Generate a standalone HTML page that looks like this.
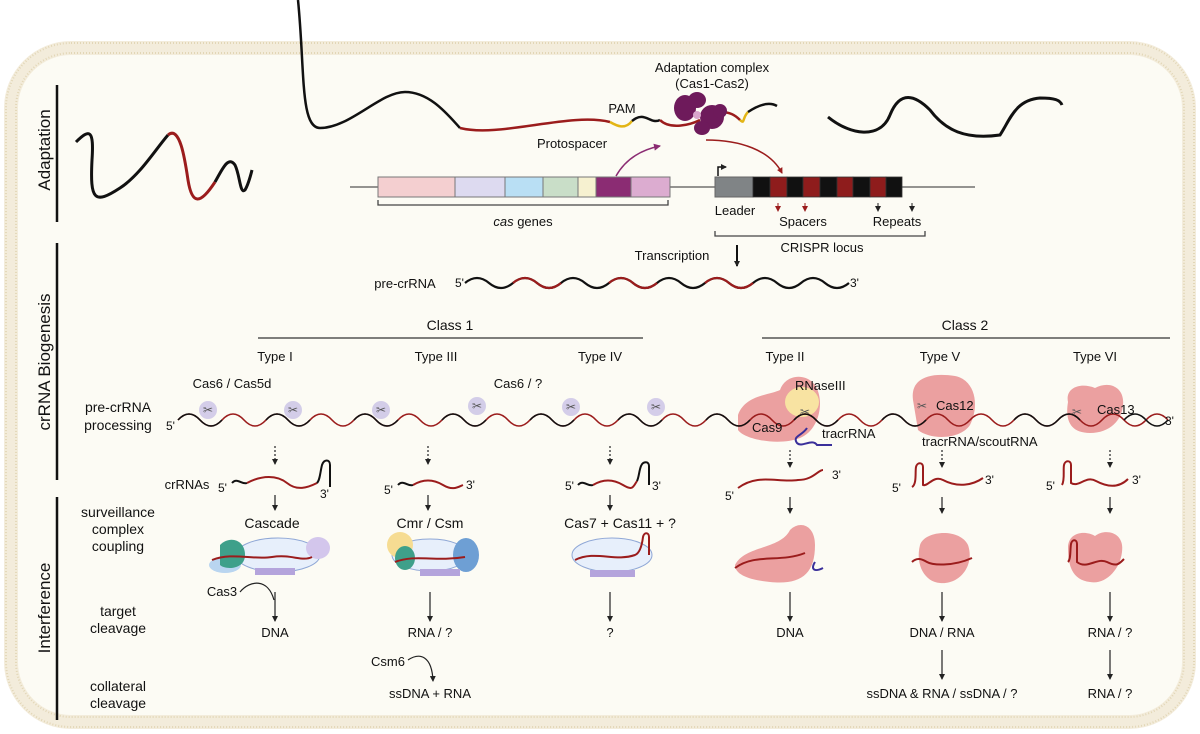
<!DOCTYPE html>
<html><head><meta charset="utf-8"><style>
html,body{margin:0;padding:0;background:#fff;}
svg{display:block;font-family:"Liberation Sans",sans-serif;}
</style></head><body>
<svg width="1200" height="734" viewBox="0 0 1200 734" xmlns="http://www.w3.org/2000/svg">
<defs>
<marker id="ah" markerWidth="6" markerHeight="6" refX="5" refY="3" orient="auto" markerUnits="userSpaceOnUse"><path d="M0,0 L6,3 L0,6 z" fill="#222"/></marker>
<marker id="ahr" markerWidth="6" markerHeight="6" refX="5" refY="3" orient="auto" markerUnits="userSpaceOnUse"><path d="M0,0 L6,3 L0,6 z" fill="#9b1c1c"/></marker>
<marker id="ahp" markerWidth="7" markerHeight="7" refX="6" refY="3.5" orient="auto" markerUnits="userSpaceOnUse"><path d="M0,0 L7,3.5 L0,7 z" fill="#8b2c73"/></marker>
</defs>
<!-- membrane -->
<rect x="11" y="48" width="1178" height="674" rx="60" fill="#fcfbf4" stroke="#f3ecdb" stroke-width="14"/>
<rect x="6" y="43" width="1188" height="684" rx="65" fill="none" stroke="#e2d6b6" stroke-width="2" stroke-dasharray="1 2"/>
<rect x="16" y="53" width="1168" height="664" rx="55" fill="none" stroke="#e2d6b6" stroke-width="2" stroke-dasharray="1 2"/>

<!-- section bars -->
<g stroke="#111" stroke-width="2.5">
<line x1="57" y1="85" x2="57" y2="222"/>
<line x1="57" y1="243" x2="57" y2="480"/>
<line x1="57" y1="497" x2="57" y2="720"/>
</g>
<g font-size="17" fill="#111" text-anchor="middle">
<text transform="translate(50,150) rotate(-90)">Adaptation</text>
<text transform="translate(50,362) rotate(-90)">crRNA Biogenesis</text>
<text transform="translate(50,608) rotate(-90)">Interference</text>
</g>

<!-- left squiggle -->
<path d="M76,142 C90,128 94,130 92,160 C90,200 94,205 120,188 C140,175 155,150 168,135" fill="none" stroke="#111" stroke-width="3"/>
<path d="M168,135 C180,125 185,160 188,180 C192,205 200,205 215,182" fill="none" stroke="#9b1c1c" stroke-width="3"/>
<path d="M215,182 C222,170 228,155 235,165 C240,175 240,195 245,190 C248,185 250,178 252,170" fill="none" stroke="#111" stroke-width="3"/>

<!-- big phage DNA -->
<path d="M298,0 C305,70 300,128 320,128 C350,128 380,92 405,92 C430,92 448,115 460,128" fill="none" stroke="#111" stroke-width="2.5"/>
<path d="M460,128 C500,138 570,112 610,122" fill="none" stroke="#9b1c1c" stroke-width="2.5"/>
<path d="M610,122 C617,126 625,130 632,121" fill="none" stroke="#e3b515" stroke-width="2.5"/>
<path d="M632,121 C645,110 650,125 660,120" fill="none" stroke="#111" stroke-width="2.5"/>
<path d="M660,120 C670,130 690,125 700,120" fill="none" stroke="#9b1c1c" stroke-width="2.5"/>
<path d="M720,112 C730,112 735,115 740,120" fill="none" stroke="#9b1c1c" stroke-width="2.5"/>
<path d="M740,120 C745,125 742,118 748,112" fill="none" stroke="#e3b515" stroke-width="2.5"/>
<path d="M748,112 C760,104 770,102 777,106" fill="none" stroke="#111" stroke-width="2.5"/>
<!-- right black curve -->
<path d="M828,117 C850,135 880,140 890,115 C900,90 915,95 930,110 C945,130 965,140 1000,135 C1010,120 1015,100 1040,98 C1055,98 1060,100 1062,105" fill="none" stroke="#111" stroke-width="3"/>
<!-- adaptation complex -->
<g fill="#6e1a5b">
<ellipse cx="685" cy="108" rx="11" ry="13"/>
<ellipse cx="697" cy="100" rx="9" ry="8"/>
<ellipse cx="712" cy="117" rx="12" ry="12"/>
<ellipse cx="702" cy="128" rx="8" ry="7"/>
<ellipse cx="720" cy="111" rx="7" ry="7"/>
</g>
<circle cx="697" cy="115" r="4" fill="#d8a6cc"/>
<text x="712" y="72" font-size="13" text-anchor="middle" fill="#111">Adaptation complex</text>
<text x="712" y="88" font-size="13" text-anchor="middle" fill="#111">(Cas1-Cas2)</text>
<text x="622" y="113" font-size="13" text-anchor="middle" fill="#111">PAM</text>
<text x="572" y="148" font-size="13" text-anchor="middle" fill="#111">Protospacer</text>

<!-- cas genes -->
<line x1="350" y1="187" x2="975" y2="187" stroke="#555" stroke-width="1.2"/>
<g stroke="#777" stroke-width="1">
<rect x="378" y="177" width="77" height="20" fill="#f4cfd0"/>
<rect x="455" y="177" width="50" height="20" fill="#dddaf0"/>
<rect x="505" y="177" width="38" height="20" fill="#b9dff4"/>
<rect x="543" y="177" width="35" height="20" fill="#c9dec8"/>
<rect x="578" y="177" width="18" height="20" fill="#f6f1d0"/>
<rect x="596" y="177" width="35" height="20" fill="#8b2c73"/>
<rect x="631" y="177" width="39" height="20" fill="#dcacd0"/>
</g>
<path d="M378,200 v5 h290 v-5" fill="none" stroke="#444" stroke-width="1.3"/>
<text x="523" y="226" font-size="13" text-anchor="middle" fill="#111"><tspan font-style="italic">cas</tspan> genes</text>
<path d="M616,176 C625,160 640,150 660,146" fill="none" stroke="#8b2c73" stroke-width="1.5" marker-end="url(#ahp)"/>
<path d="M706,140 C740,140 770,150 782,173" fill="none" stroke="#9b1c1c" stroke-width="1.5" marker-end="url(#ahr)"/>
<!-- CRISPR locus -->
<rect x="715" y="177" width="38" height="20" fill="#808486" stroke="#666"/>
<g stroke="#333" stroke-width="0.8">
<rect x="753" y="177" width="17" height="20" fill="#111"/>
<rect x="770" y="177" width="17" height="20" fill="#8e1c1c"/>
<rect x="787" y="177" width="16" height="20" fill="#111"/>
<rect x="803" y="177" width="17" height="20" fill="#8e1c1c"/>
<rect x="820" y="177" width="17" height="20" fill="#111"/>
<rect x="837" y="177" width="16" height="20" fill="#8e1c1c"/>
<rect x="853" y="177" width="17" height="20" fill="#111"/>
<rect x="870" y="177" width="16" height="20" fill="#8e1c1c"/>
<rect x="886" y="177" width="16" height="20" fill="#111"/>
</g>
<path d="M718,176 v-9 h8" fill="none" stroke="#111" stroke-width="1.5" marker-end="url(#ah)"/>
<g stroke-width="1">
<line x1="778" y1="203" x2="778" y2="211" stroke="#9b1c1c" marker-end="url(#ahr)"/>
<line x1="805" y1="203" x2="805" y2="211" stroke="#9b1c1c" marker-end="url(#ahr)"/>
<line x1="878" y1="203" x2="878" y2="211" stroke="#222" marker-end="url(#ah)"/>
<line x1="912" y1="203" x2="912" y2="211" stroke="#222" marker-end="url(#ah)"/>
</g>
<text x="735" y="215" font-size="13" text-anchor="middle" fill="#111">Leader</text>
<text x="803" y="226" font-size="13" text-anchor="middle" fill="#111">Spacers</text>
<text x="897" y="226" font-size="13" text-anchor="middle" fill="#111">Repeats</text>
<path d="M715,231 v5 h210 v-5" fill="none" stroke="#444" stroke-width="1.3"/>
<text x="822" y="252" font-size="13" text-anchor="middle" fill="#111">CRISPR locus</text>
<text x="672" y="260" font-size="13" text-anchor="middle" fill="#111">Transcription</text>
<line x1="737" y1="245" x2="737" y2="266" stroke="#111" stroke-width="2" marker-end="url(#ah)"/>

<!-- pre-crRNA -->
<text x="405" y="288" font-size="13" text-anchor="middle" fill="#111">pre-crRNA</text>
<text x="455" y="287" font-size="12" fill="#111">5'</text>
<path d="M465,283 q12,-10 24,0 t24,0 t24,0 t24,0 t24,0 t24,0 t24,0 t24,0 t24,0 t24,0 t24,0 t24,0 t24,0 t24,0 t24,0 t24,0" fill="none" stroke="#111" stroke-width="2.2"/>
<path d="M513,283 q12,-10 24,0 t24,0 M609,283 q12,-10 24,0 t24,0 M705,283 q12,-10 24,0 t24,0" fill="none" stroke="#9b1c1c" stroke-width="2.2"/>
<text x="850" y="287" font-size="12" fill="#111">3'</text>

<!-- classes -->
<line x1="258" y1="338" x2="643" y2="338" stroke="#333" stroke-width="1.2"/>
<line x1="762" y1="338" x2="1170" y2="338" stroke="#333" stroke-width="1.2"/>
<g font-size="14" text-anchor="middle" fill="#111">
<text x="450" y="330">Class 1</text><text x="965" y="330">Class 2</text>
</g>
<g font-size="13" text-anchor="middle" fill="#111">
<text x="275" y="361">Type I</text><text x="436" y="361">Type III</text><text x="600" y="361">Type IV</text>
<text x="785" y="361">Type II</text><text x="940" y="361">Type V</text><text x="1095" y="361">Type VI</text>
<text x="232" y="388">Cas6 / Cas5d</text><text x="518" y="388">Cas6 / ?</text>
</g>

<!-- Cas proteins type II/V/VI -->
<path d="M738,415 C745,395 770,395 780,390 C785,375 805,372 815,385 C825,400 820,430 800,438 C780,446 745,440 738,430 z" fill="#eba0a0"/>
<ellipse cx="802" cy="402" rx="17" ry="15" fill="#f8e3a2"/>
<path d="M913,400 C910,378 930,372 955,376 C975,380 980,405 970,425 C960,440 930,440 918,430 z" fill="#eba0a0"/>
<path d="M1068,402 C1065,388 1080,382 1095,388 C1110,380 1125,388 1123,405 C1122,420 1110,433 1090,433 C1070,433 1065,420 1068,402 z" fill="#eba0a0"/>

<!-- processing line -->
<text x="166" y="430" font-size="12" fill="#111">5'</text>
<path d="M178,420 q11,-12 22,0 t22,0 t22,0 t22,0 t22,0 t22,0 t22,0 t22,0 t22,0 t22,0 t22,0 t22,0 t22,0 t22,0 t22,0 t22,0 t22,0 t22,0 t22,0 t22,0 t22,0 t22,0 t22,0 t22,0 t22,0 t22,0 t22,0 t22,0 t22,0 t22,0 t22,0 t22,0 t22,0 t22,0 t22,0 t22,0 t22,0 t22,0 t22,0 t22,0 t22,0 t22,0 t22,0 t22,0 t22,0" fill="none" stroke="#9b1c1c" stroke-width="1.6"/>
<g fill="none" stroke="#111" stroke-width="1.6">
<path d="M178,420 q11,-12 22,0 t22,0"/><path d="M266,420 q11,-12 22,0 t22,0"/><path d="M354,420 q11,-12 22,0 t22,0"/>
<path d="M442,420 q11,-12 22,0 t22,0"/><path d="M530,420 q11,-12 22,0 t22,0"/><path d="M618,420 q11,-12 22,0 t22,0"/>
<path d="M706,420 q11,-12 22,0 t22,0"/><path d="M794,420 q11,-12 22,0 t22,0"/><path d="M882,420 q11,-12 22,0 t22,0"/>
<path d="M1014,420 q11,-12 22,0 t22,0 t22,0"/><path d="M1124,420 q11,-12 22,0 t22,0"/>
</g>
<text x="1165" y="425" font-size="12" fill="#111">3'</text>
<g fill="#c9c2e6" opacity="0.8">
<circle cx="208" cy="410" r="9"/><circle cx="293" cy="410" r="9"/><circle cx="381" cy="410" r="9"/>
<circle cx="477" cy="406" r="9"/><circle cx="571" cy="407" r="9"/><circle cx="656" cy="407" r="9"/>
</g>
<g font-size="12" fill="#555" text-anchor="middle">
<text x="208" y="414">✂</text><text x="293" y="414">✂</text><text x="381" y="414">✂</text>
<text x="477" y="410">✂</text><text x="571" y="411">✂</text><text x="656" y="411">✂</text>
<text x="805" y="416">✂</text><text x="922" y="410">✂</text><text x="1077" y="416">✂</text>
</g>
<path d="M807,428 c-5,8 -15,8 -10,15 c5,5 15,-5 20,2 l15,0" fill="none" stroke="#3a2f9a" stroke-width="2"/>
<g font-size="13" fill="#111">
<text x="795" y="390">RNaseIII</text><text x="752" y="432">Cas9</text><text x="822" y="438">tracrRNA</text>
<text x="936" y="410">Cas12</text><text x="922" y="446">tracrRNA/scoutRNA</text><text x="1097" y="414">Cas13</text>
</g>

<!-- left labels -->
<g font-size="14" fill="#111" text-anchor="middle">
<text x="118" y="412">pre-crRNA</text><text x="118" y="430">processing</text>
<text x="118" y="517">surveillance</text><text x="118" y="534">complex</text><text x="118" y="551">coupling</text>
<text x="118" y="616">target</text><text x="118" y="633">cleavage</text>
<text x="118" y="691">collateral</text><text x="118" y="708">cleavage</text>
</g>
<text x="187" y="489" font-size="13" text-anchor="middle" fill="#111">crRNAs</text>

<!-- dashed and solid arrows -->
<g stroke="#222" stroke-width="1.2">
<line x1="275" y1="446" x2="275" y2="464" stroke-dasharray="2 2" marker-end="url(#ah)"/>
<line x1="428" y1="446" x2="428" y2="464" stroke-dasharray="2 2" marker-end="url(#ah)"/>
<line x1="610" y1="446" x2="610" y2="464" stroke-dasharray="2 2" marker-end="url(#ah)"/>
<line x1="790" y1="450" x2="790" y2="467" stroke-dasharray="2 2" marker-end="url(#ah)"/>
<line x1="942" y1="450" x2="942" y2="467" stroke-dasharray="2 2" marker-end="url(#ah)"/>
<line x1="1110" y1="450" x2="1110" y2="467" stroke-dasharray="2 2" marker-end="url(#ah)"/>
<line x1="275" y1="495" x2="275" y2="510" marker-end="url(#ah)"/>
<line x1="428" y1="495" x2="428" y2="510" marker-end="url(#ah)"/>
<line x1="610" y1="495" x2="610" y2="510" marker-end="url(#ah)"/>
<line x1="790" y1="497" x2="790" y2="513" marker-end="url(#ah)"/>
<line x1="942" y1="497" x2="942" y2="513" marker-end="url(#ah)"/>
<line x1="1110" y1="497" x2="1110" y2="513" marker-end="url(#ah)"/>
<line x1="275" y1="592" x2="275" y2="621" marker-end="url(#ah)"/>
<line x1="430" y1="592" x2="430" y2="621" marker-end="url(#ah)"/>
<line x1="610" y1="592" x2="610" y2="621" marker-end="url(#ah)"/>
<line x1="790" y1="592" x2="790" y2="621" marker-end="url(#ah)"/>
<line x1="942" y1="592" x2="942" y2="621" marker-end="url(#ah)"/>
<line x1="1110" y1="592" x2="1110" y2="621" marker-end="url(#ah)"/>
<line x1="942" y1="650" x2="942" y2="679" marker-end="url(#ah)"/>
<line x1="1110" y1="650" x2="1110" y2="679" marker-end="url(#ah)"/>
</g>
<path d="M240,592 C250,580 268,578 274,600" fill="none" stroke="#222" stroke-width="1.2"/>
<path d="M408,660 C420,652 432,656 433,681" fill="none" stroke="#222" stroke-width="1.2" marker-end="url(#ah)"/>

<!-- crRNAs -->
<g fill="none" stroke-width="2">
<path d="M232,483 c5,-6 10,2 15,0" stroke="#111"/><path d="M247,483 c15,-8 30,-8 40,0 s20,5 30,0" stroke="#9b1c1c"/>
<path d="M317,483 c3,-3 3,-10 5,-18 c2,-6 8,-6 8,0 v22" stroke="#111"/>
<path d="M398,485 c5,-6 10,2 15,0" stroke="#111"/><path d="M413,485 c10,-6 20,-6 30,0 s15,2 20,0" stroke="#9b1c1c"/>
<path d="M578,485 c5,-6 10,2 15,0" stroke="#111"/><path d="M593,485 c10,-6 20,-6 30,0 s10,2 14,-4" stroke="#9b1c1c"/>
<path d="M637,481 c2,-4 2,-10 4,-15 c2,-5 8,-5 8,0 v19" stroke="#111"/>
<path d="M738,488 c20,-15 40,-5 60,-8 c15,0 20,-10 25,-10" stroke="#9b1c1c"/>
<path d="M912,487 c5,-3 3,-15 4,-20 c1,-5 7,-5 7,0 v18 c5,2 10,-10 20,-5 c15,8 30,5 40,-2" stroke="#9b1c1c"/>
<path d="M1062,485 c3,-5 1,-15 2,-20 c1,-5 7,-5 7,0 v18 c8,5 15,-8 25,-2 c15,8 25,5 32,-2" stroke="#9b1c1c"/>
</g>
<g font-size="12" fill="#111">
<text x="218" y="492">5'</text><text x="320" y="498">3'</text>
<text x="384" y="494">5'</text><text x="466" y="489">3'</text>
<text x="565" y="490">5'</text><text x="652" y="490">3'</text>
<text x="725" y="500">5'</text><text x="832" y="479">3'</text>
<text x="892" y="492">5'</text><text x="985" y="484">3'</text>
<text x="1046" y="490">5'</text><text x="1132" y="484">3'</text>
</g>

<!-- complex names -->
<g font-size="14" fill="#111" text-anchor="middle">
<text x="272" y="528">Cascade</text><text x="430" y="528">Cmr / Csm</text><text x="620" y="528">Cas7 + Cas11 + ?</text>
</g>
<!-- class1 complexes -->
<g>
<ellipse cx="278" cy="555" rx="42" ry="17" fill="#e7effb" stroke="#8fa7d6"/>
<ellipse cx="225" cy="565" rx="16" ry="8" fill="#b9d5f0"/>
<path d="M220,545 c10,-10 25,-5 25,10 c0,15 -20,15 -25,10 z" fill="#3ea08a"/>
<ellipse cx="318" cy="548" rx="12" ry="11" fill="#d3c6ec"/>
<rect x="255" y="568" width="40" height="7" fill="#b4a4dc"/>
<path d="M212,560 c20,-8 40,0 60,-3 s30,5 40,0" fill="none" stroke="#9b1c1c" stroke-width="2"/>
<ellipse cx="430" cy="555" rx="38" ry="16" fill="#e7effb" stroke="#8fa7d6"/>
<circle cx="400" cy="545" r="13" fill="#f6dc92"/>
<ellipse cx="405" cy="558" rx="10" ry="12" fill="#3ea08a"/>
<ellipse cx="466" cy="555" rx="13" ry="17" fill="#6e9fd4"/>
<rect x="420" y="569" width="40" height="7" fill="#b4a4dc"/>
<path d="M395,562 c20,-8 40,0 70,-5" fill="none" stroke="#9b1c1c" stroke-width="2"/>
<ellipse cx="612" cy="555" rx="40" ry="17" fill="#e7effb" stroke="#8fa7d6"/>
<rect x="590" y="570" width="45" height="7" fill="#b4a4dc"/>
<path d="M575,560 c20,-10 40,2 60,-5 c5,-2 7,-10 8,-18 c1,-5 6,-5 6,0 v18" fill="none" stroke="#9b1c1c" stroke-width="2"/>
<!-- class2 complexes -->
<path d="M735,565 C745,545 780,550 790,530 C800,520 815,525 815,545 C815,575 800,585 770,582 C750,580 735,575 735,565 z" fill="#eba0a0"/>
<path d="M735,568 c20,-15 45,-5 70,-15" fill="none" stroke="#9b1c1c" stroke-width="2"/>
<path d="M815,562 c-5,8 0,10 8,6" fill="none" stroke="#3a2f9a" stroke-width="2"/>
<path d="M920,545 C925,530 960,528 968,545 C975,565 960,585 940,583 C925,582 915,565 920,545 z" fill="#eba0a0"/>
<path d="M912,562 c5,-5 10,-3 15,0 s25,5 45,-4" fill="none" stroke="#9b1c1c" stroke-width="2"/>
<path d="M1068,548 C1068,532 1085,530 1095,536 C1105,528 1125,532 1122,552 C1120,570 1105,585 1090,582 C1072,580 1068,565 1068,548 z" fill="#eba0a0"/>
<path d="M1068,562 c3,-3 2,-12 3,-18 c1,-5 6,-5 6,0 v18 c10,8 20,-5 30,0 s12,2 17,-3" fill="none" stroke="#9b1c1c" stroke-width="2"/>
</g>

<!-- cleavage labels -->
<g font-size="13" fill="#111" text-anchor="middle">
<text x="222" y="596">Cas3</text>
<text x="275" y="637">DNA</text><text x="430" y="637">RNA / ?</text><text x="610" y="637">?</text>
<text x="790" y="637">DNA</text><text x="942" y="637">DNA / RNA</text><text x="1110" y="637">RNA / ?</text>
<text x="388" y="666">Csm6</text>
<text x="430" y="698">ssDNA + RNA</text><text x="942" y="698">ssDNA &amp; RNA / ssDNA / ?</text><text x="1110" y="698">RNA / ?</text>
</g>
</svg>
</body></html>
